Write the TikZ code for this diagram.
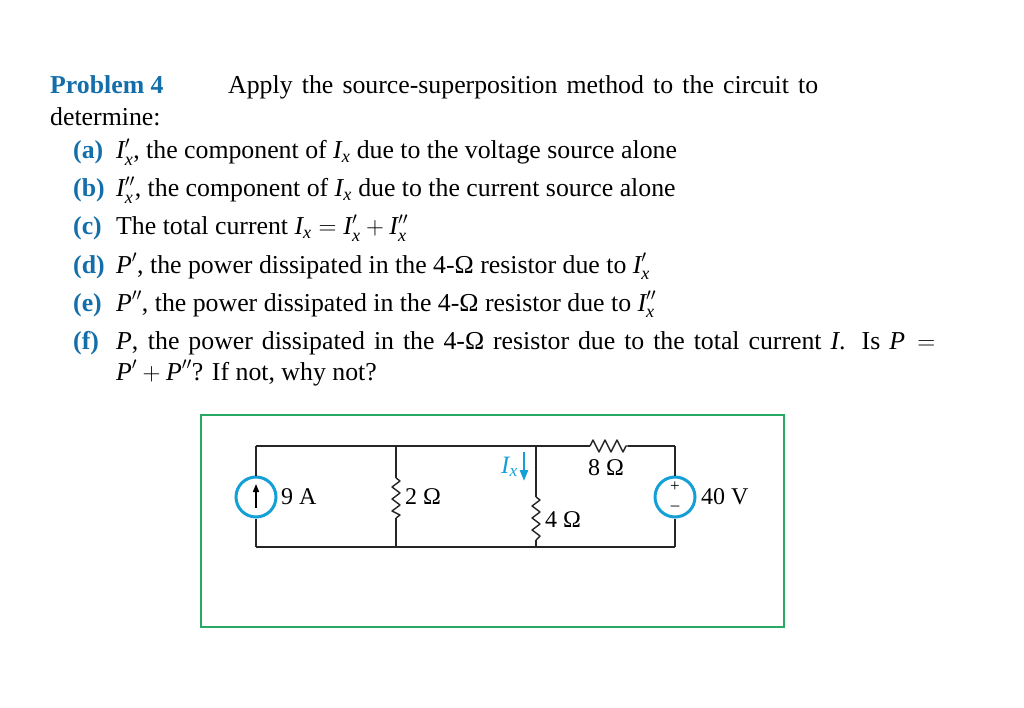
\documentclass[tikz,border=0pt]{standalone}
\usepackage{amsmath}
\usepackage{fontspec}
\setmainfont{Liberation Serif}
\usetikzlibrary{arrows.meta}
\definecolor{tblue}{RGB}{20,110,170}
\definecolor{cblue}{RGB}{20,160,215}
\definecolor{gbox}{RGB}{40,170,100}
\newcommand\mI{\text{\itshape I}}
\newcommand\mP{\text{\itshape P}}
\newcommand\mx{\text{\itshape x}}
\begin{document}
\begin{tikzpicture}[x=1pt,y=-1pt,
  txt/.style={anchor=base west,inner sep=0pt,font=\fontsize{25.8}{30}\selectfont},
  lab/.style={txt,text=tblue,font=\fontsize{25.8}{30}\selectfont\bfseries},
  wire/.style={line width=1.6pt,black!85},
  res/.style={line width=1.4pt,black!85,line join=round},
  src/.style={draw=cblue,line width=3pt,circle,minimum size=40pt,inner sep=0pt},
  clab/.style={anchor=west,inner sep=0pt,font=\fontsize{24}{28}\selectfont}]
\useasboundingbox (0,0) rectangle (1024,708);
\node[lab] (p4) at (50,94) {Problem 4};
\node[txt] (l1) at (228,94) {\makebox[590pt][s]{Apply the source-superposition method to the circuit to}};
\node[txt] (l2) at (50,126) {determine:};
\node[lab] (a) at (73,159) {(a)}; \node[txt] (ta) at (116,159) {$\mI'_{\mx}$, the component of $\mI_{\mx}$ due to the voltage source alone};
\node[lab] (b) at (73,197) {(b)}; \node[txt] (tb) at (116,197) {$\mI''_{\mx}$, the component of $\mI_{\mx}$ due to the current source alone};
\node[lab] (c) at (73,235) {(c)}; \node[txt] (tc) at (116,235) {The total current $\mI_{\mx}=\mI'_{\mx}+\mI''_{\mx}$};
\node[lab] (d) at (73,273) {(d)}; \node[txt] (td) at (116,273) {$\mP'$, the power dissipated in the 4-Ω resistor due to $\mI'_{\mx}$};
\node[lab] (e) at (73,311) {(e)}; \node[txt] (te) at (116,311) {$\mP''$, the power dissipated in the 4-Ω resistor due to $\mI''_{\mx}$};
\node[lab] (f) at (73,349) {(f)}; \node[txt] (tf) at (116,349) {\makebox[819pt][s]{$\mP$, the power dissipated in the 4-Ω resistor due to the total current \mI. Is $\mP=$}};
\node[txt] (tf2) at (116,380) {$\mP'+\mP''$? If not, why not?};
% box
\draw[gbox,line width=1.5pt] (201,415) rectangle (784,627);
\coordinate (A1) at (256,446); \coordinate (A2) at (256,547);
\coordinate (B1) at (396,446); \coordinate (B2) at (396,547);
\coordinate (C1) at (536,446); \coordinate (C2) at (536,547);
\coordinate (D1) at (675,446); \coordinate (D2) at (675,547);
\node[src] (is) at (256,497) {};
\node[src] (vs) at (675,497) {};
\draw[wire] (A1) -- (is.north); \draw[wire] (is.south) -- (A2);
\draw[wire] (D1) -- (vs.north); \draw[wire] (vs.south) -- (D2);
\draw[wire] (A1) -- (C1) -- (590,446);
\draw[wire] (628,446) -- (D1);
\draw[wire] (A2) -- (D2);
\draw[res] (590,446) -- (593,440) -- (599,452) -- (605,440) -- (611,452) -- (617,440) -- (623,452) -- (626,446) -- (628,446);
\draw[wire] (B1) -- (396,478); \draw[wire] (396,518) -- (B2);
\draw[res] (396,478) -- (400,481) -- (392,487) -- (400,493) -- (392,499) -- (400,505) -- (392,511) -- (400,515) -- (396,518);
\draw[wire] (C1) -- (536,497); \draw[wire] (536,540) -- (C2);
\draw[res] (536,497) -- (540,500) -- (532,506) -- (540,512) -- (532,518) -- (540,524) -- (532,530) -- (540,536) -- (536,540);
\draw[line width=1.5pt,-{Triangle[length=8pt,width=6pt]}] (256,508) -- (256,484);
\node[font=\fontsize{17}{17}\selectfont,inner sep=0pt] (plus) at (675,487) {+};
\node[font=\fontsize{17}{17}\selectfont,inner sep=0pt] (minus) at (675,508) {–};
\draw[cblue,line width=2.5pt,-{Triangle[length=11pt,width=8pt]}] (524,452) -- (524,481);
\node[anchor=base east,inner sep=0pt,text=cblue,font=\fontsize{25}{25}\selectfont] (ix) at (518,473) {$\mI_{\mx}$};
\node[clab] (l9) at (281,497) {9 A};
\node[clab] (l2o) at (405,497) {2 Ω};
\node[clab] (l4o) at (545,520) {4 Ω};
\node[clab] (l8o) at (588,468) {8 Ω};
\node[clab] (l40) at (701,497) {40 V};
\end{tikzpicture}
\end{document}
